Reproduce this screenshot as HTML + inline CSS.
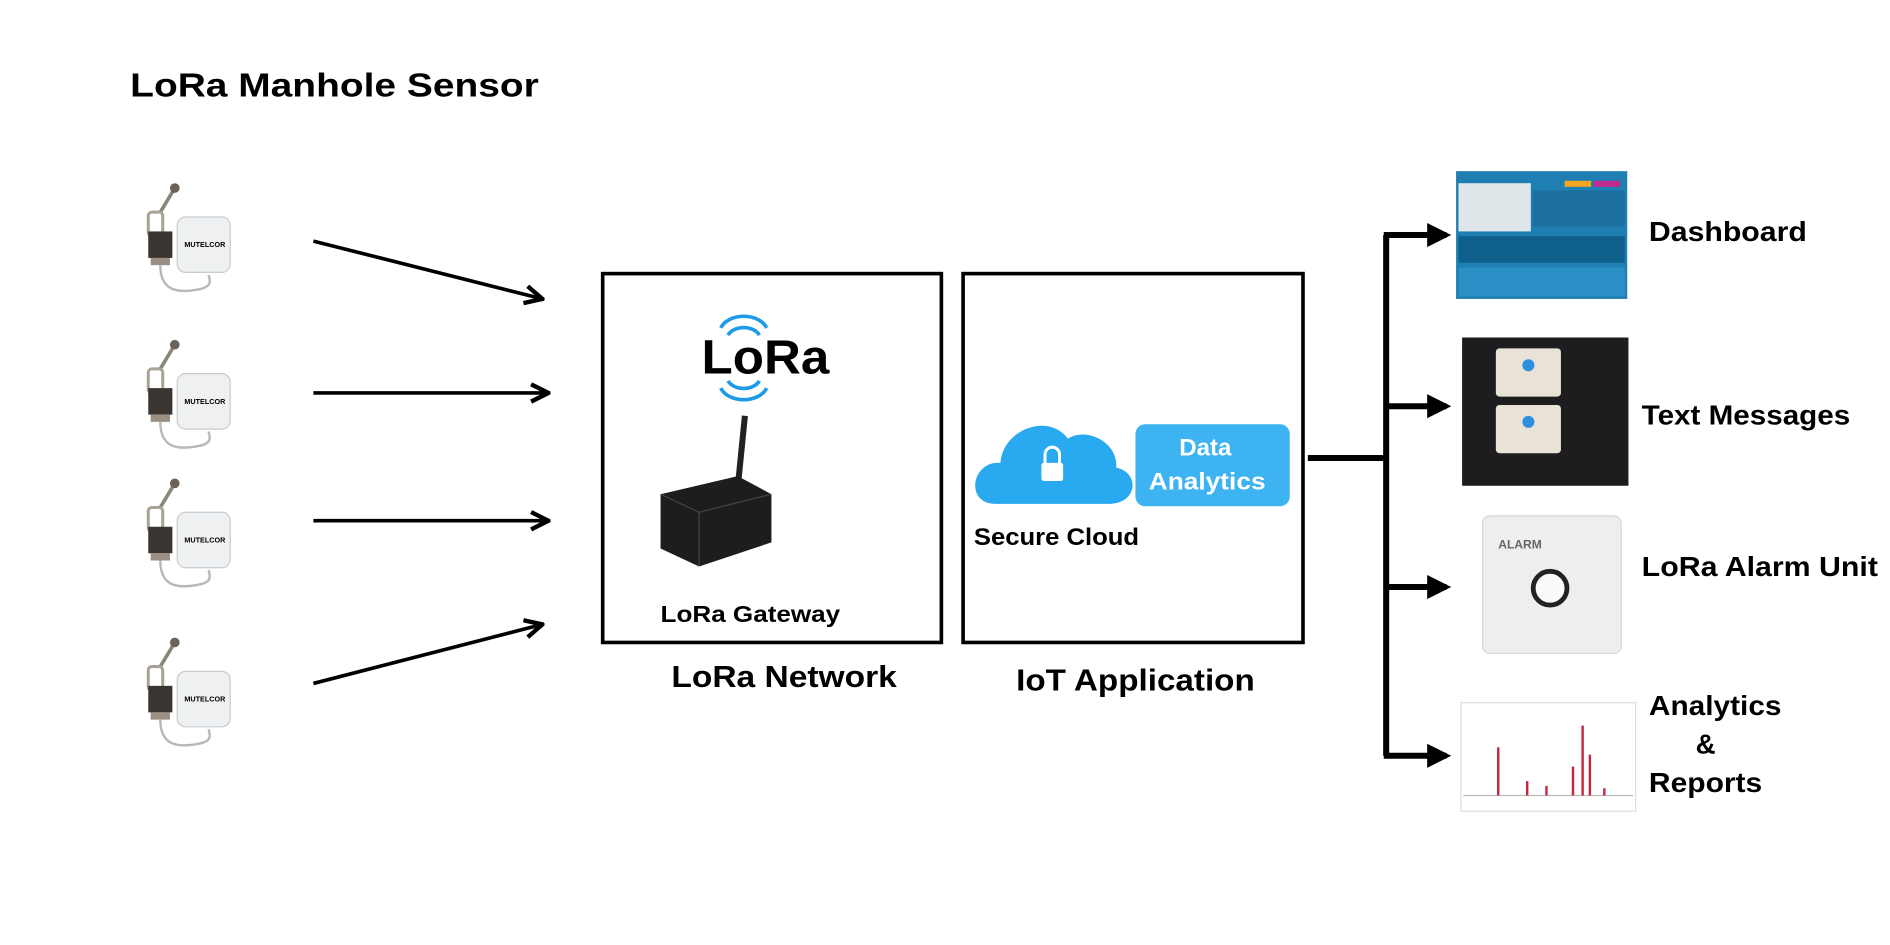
<!DOCTYPE html>
<html><head><meta charset="utf-8"><style>
html,body{margin:0;padding:0;background:#fff;}
svg{display:block}
text{font-family:"Liberation Sans","DejaVu Sans",sans-serif;font-weight:bold;fill:#000}
</style></head><body>
<svg width="1890" height="945" viewBox="0 0 1568 784" xmlns="http://www.w3.org/2000/svg">
<defs>
<g id="sensor">
  <path d="M18 28 L30 8" stroke="#8a8578" stroke-width="3" fill="none"/>
  <circle cx="30" cy="8" r="4" fill="#6b6258"/>
  <rect x="8" y="28" width="12" height="20" rx="3" fill="none" stroke="#a8a396" stroke-width="2.5"/>
  <rect x="8" y="44" width="20" height="22" fill="#3b3532"/>
  <rect x="10" y="66" width="16" height="6" fill="#9a8f80"/>
  <path d="M18 72 C18 92 30 96 50 92 C60 90 60 86 58 80" stroke="#b8b8b8" stroke-width="2" fill="none"/>
  <rect x="32" y="32" width="44" height="46" rx="7" fill="#eef0f1" stroke="#c8cccf"/>
  <text x="38" y="57" font-size="6" fill="#333">MUTELCOR</text>
</g>
<marker id="ah" viewBox="0 0 10 10" refX="9" refY="5" markerWidth="6" markerHeight="6" orient="auto">
  <path d="M1 1 L9 5 L1 9" fill="none" stroke="#000" stroke-width="2"/>
</marker>
<marker id="ah2" viewBox="0 0 10 10" refX="8" refY="5" markerWidth="4" markerHeight="4" orient="auto">
  <path d="M0 0 L10 5 L0 10 Z" fill="#000"/>
</marker>
</defs>

<text x="108" y="80" font-size="28" textLength="339" lengthAdjust="spacingAndGlyphs">LoRa Manhole Sensor</text>

<use href="#sensor" x="115" y="148"/>
<use href="#sensor" x="115" y="278"/>
<use href="#sensor" x="115" y="393"/>
<use href="#sensor" x="115" y="525"/>

<g stroke="#000" stroke-width="3" fill="none" marker-end="url(#ah)">
<line x1="260" y1="200" x2="450" y2="248"/>
<line x1="260" y1="326" x2="455" y2="326"/>
<line x1="260" y1="432" x2="455" y2="432"/>
<line x1="260" y1="567" x2="450" y2="518"/>
</g>

<rect x="500" y="227" width="281" height="306" fill="none" stroke="#000" stroke-width="3"/>
<rect x="799" y="227" width="282" height="306" fill="none" stroke="#000" stroke-width="3"/>

<g fill="none" stroke="#1e9be8" stroke-width="3">
<path d="M604 278 A 14 10 0 0 1 630 278"/>
<path d="M598 272 A 20 14 0 0 1 636 272"/>
<path d="M604 316 A 14 10 0 0 0 630 316"/>
<path d="M598 322 A 20 14 0 0 0 636 322"/>
</g>
<text x="582" y="310" font-size="40" textLength="106" lengthAdjust="spacingAndGlyphs">LoRa</text>
<line x1="618" y1="345" x2="612" y2="405" stroke="#222" stroke-width="5"/>
<path d="M548 410 L612 395 L640 410 L640 450 L580 470 L548 455 Z" fill="#1d1d1d"/>
<path d="M548 410 L580 425 L640 410" stroke="#444" fill="none"/>
<line x1="580" y1="425" x2="580" y2="470" stroke="#444"/>
<text x="548" y="516" font-size="19" textLength="149" lengthAdjust="spacingAndGlyphs">LoRa Gateway</text>

<path d="M826 418 C800 418 806 382 830 384 C832 356 870 342 886 364 C900 354 928 366 926 388 C946 392 944 418 920 418 Z" fill="#29a9f0"/>
<rect x="864" y="384" width="18" height="15" rx="2" fill="#fff"/>
<path d="M867 384 V377 A6 6 0 0 1 879 377 V384" stroke="#fff" stroke-width="2.5" fill="none"/>
<text x="808" y="452" font-size="20" textLength="137" lengthAdjust="spacingAndGlyphs">Secure Cloud</text>
<rect x="942" y="352" width="128" height="68" rx="8" fill="#3db3f2"/>
<text x="1000" y="378" font-size="20" text-anchor="middle" style="fill:#fff">Data</text>
<text x="953" y="406" font-size="20" textLength="97" lengthAdjust="spacingAndGlyphs" style="fill:#fff">Analytics</text>

<text x="557" y="570" font-size="25" textLength="187" lengthAdjust="spacingAndGlyphs">LoRa Network</text>
<text x="843" y="573" font-size="25" textLength="198" lengthAdjust="spacingAndGlyphs">IoT Application</text>

<g stroke="#000" stroke-width="5" fill="none">
<line x1="1085" y1="380" x2="1152" y2="380"/>
<line x1="1150" y1="195" x2="1150" y2="627"/>
</g>
<g stroke="#000" stroke-width="5" fill="none" marker-end="url(#ah2)">
<line x1="1148" y1="195" x2="1200" y2="195"/>
<line x1="1148" y1="337" x2="1200" y2="337"/>
<line x1="1148" y1="487" x2="1200" y2="487"/>
<line x1="1148" y1="627" x2="1200" y2="627"/>
</g>

<rect x="1208" y="142" width="142" height="106" fill="#1f7fb3"/>
<rect x="1210" y="152" width="60" height="40" fill="#dfe6ea"/>
<rect x="1272" y="158" width="76" height="30" fill="#1b6f9e"/>
<rect x="1298" y="150" width="22" height="5" fill="#f3a623"/>
<rect x="1322" y="150" width="22" height="5" fill="#c02a8d"/>
<rect x="1210" y="196" width="138" height="22" fill="#0f5f8d"/>
<rect x="1210" y="222" width="138" height="24" fill="#2a8fc4"/>
<text x="1368" y="200" font-size="23" textLength="131" lengthAdjust="spacingAndGlyphs">Dashboard</text>

<rect x="1213" y="280" width="138" height="123" fill="#1d1d1f"/>
<rect x="1241" y="289" width="54" height="40" rx="3" fill="#e9e2d7"/>
<circle cx="1268" cy="303" r="5" fill="#2d8de0"/>
<rect x="1241" y="336" width="54" height="40" rx="3" fill="#e9e2d7"/>
<circle cx="1268" cy="350" r="5" fill="#2d8de0"/>
<text x="1362" y="352" font-size="23" textLength="173" lengthAdjust="spacingAndGlyphs">Text Messages</text>

<rect x="1230" y="428" width="115" height="114" rx="6" fill="#eeeeee" stroke="#d6d6d6"/>
<circle cx="1286" cy="488" r="14" fill="#fafafa" stroke="#222" stroke-width="4"/>
<text x="1243" y="455" font-size="10" style="fill:#666">ALARM</text>
<text x="1362" y="478" font-size="23" textLength="196" lengthAdjust="spacingAndGlyphs">LoRa Alarm Unit</text>

<rect x="1212" y="583" width="145" height="90" fill="#fff" stroke="#ddd"/>
<line x1="1214" y1="660" x2="1355" y2="660" stroke="#bbb"/>
<g fill="#c8263b">
<rect x="1242" y="620" width="2" height="40"/>
<rect x="1304" y="636" width="2" height="24"/>
<rect x="1312" y="602" width="2" height="58"/>
<rect x="1318" y="626" width="2" height="34"/>
<rect x="1266" y="648" width="2" height="12"/>
<rect x="1282" y="652" width="2" height="8"/>
<rect x="1330" y="654" width="2" height="6"/>
</g>
<text x="1368" y="593" font-size="23" textLength="110" lengthAdjust="spacingAndGlyphs">Analytics</text>
<text x="1415" y="625" font-size="23" text-anchor="middle">&amp;</text>
<text x="1368" y="657" font-size="23" textLength="94" lengthAdjust="spacingAndGlyphs">Reports</text>
</svg>
</body></html>
